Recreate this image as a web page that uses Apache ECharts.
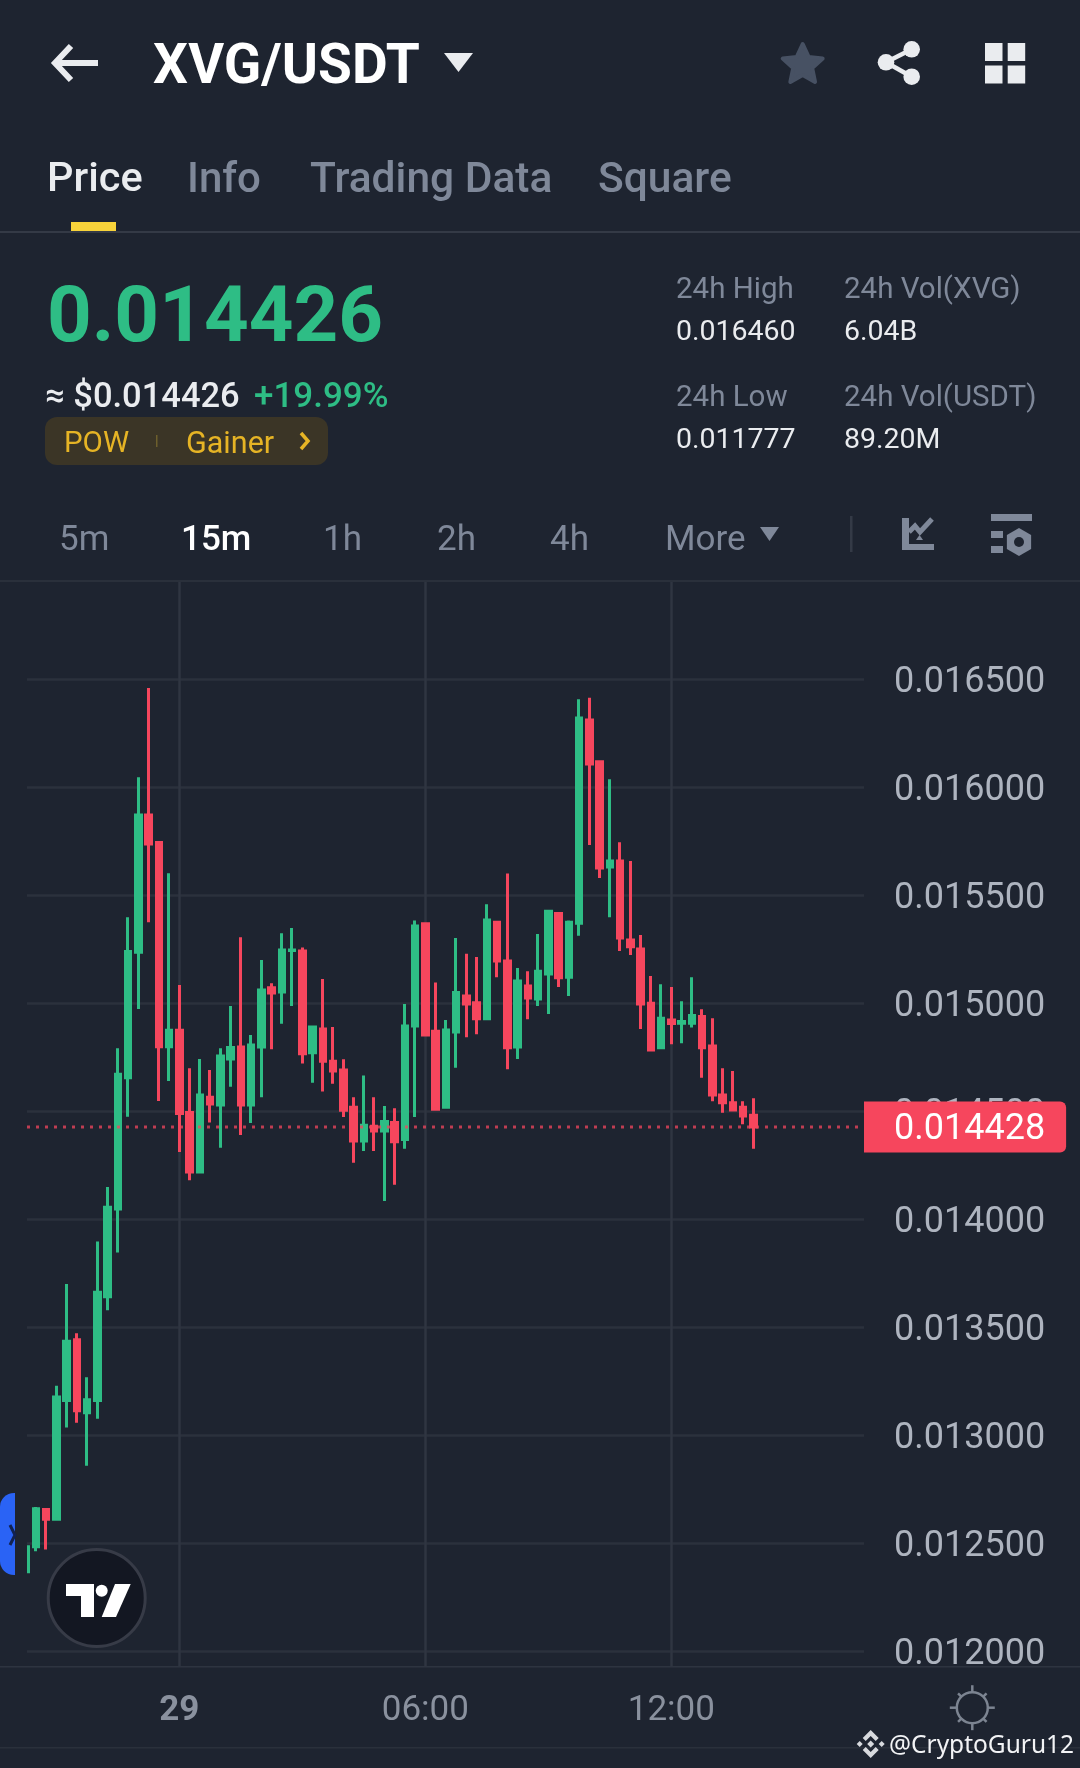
<!DOCTYPE html>
<html lang="en">
<head>
    <meta charset="UTF-8">
    <title>XVG/USDT</title>
    <style>
        html, body { margin: 0; padding: 0; background: #1e2430; }
    </style>
</head>
<body>
<div id="main" style="width: 1080px;height:1768px;"></div>
<script src="https://cdn.jsdelivr.net/npm/echarts@6/dist/echarts.min.js"></script>
<script>
    // 15m candles
    var opens = [0.012368,0.012483,0.012656,0.012611,0.013161,0.013442,0.013104,0.013161,0.013642,0.014048,0.014656,0.015238,
        0.015873,0.015746,0.014800,0.014876,0.014495,0.014219,0.014566,0.014530,0.014743,0.014798,0.014530,0.014798,
        0.015073,0.015053,0.015246,0.015243,0.014772,0.014882,0.014733,0.014692,0.014520,0.014363,0.014432,0.014409,
        0.014449,0.014370,0.014896,0.015370,0.014872,0.014520,0.014868,0.015035,0.015003,0.014929,0.015377,0.015197,
        0.014798,0.015081,0.015021,0.015137,0.015417,0.015122,0.015372,0.016313,0.016120,0.015632,0.015660,0.015294,
        0.015253,0.015001,0.014795,0.014924,0.014909,0.014909,0.014940,0.014803,0.014576,0.014540,0.014520,0.014482];
    var closes = [0.012484,0.012660,0.012611,0.013177,0.013436,0.013113,0.013164,0.013662,0.014056,0.014672,0.015241,0.015873,
        0.015739,0.014800,0.014876,0.014490,0.014219,0.014576,0.014535,0.014757,0.014796,0.014530,0.014808,0.015063,
        0.015049,0.015248,0.015248,0.014767,0.014891,0.014733,0.014687,0.014505,0.014363,0.014436,0.014409,0.014454,
        0.014360,0.014896,0.015359,0.014854,0.014510,0.014877,0.015051,0.014998,0.014929,0.015387,0.015197,0.014795,
        0.015104,0.015026,0.015150,0.015428,0.015119,0.015377,0.016323,0.016110,0.015628,0.015660,0.015304,0.015263,
        0.014998,0.014785,0.014932,0.014907,0.014917,0.014945,0.014795,0.014576,0.014540,0.014507,0.014479,0.014428];
    var lows = [0.012368,0.012463,0.012471,0.012611,0.013036,0.013058,0.012859,0.013076,0.013579,0.013846,0.014476,0.014975,
        0.015377,0.014548,0.014641,0.014312,0.014181,0.014219,0.014449,0.014332,0.014614,0.014391,0.014446,0.014566,
        0.014788,0.014906,0.014988,0.014722,0.014633,0.014593,0.014628,0.014474,0.014262,0.014317,0.014317,0.014085,
        0.014160,0.014327,0.014474,0.014850,0.014505,0.014520,0.014702,0.014844,0.014858,0.014929,0.015122,0.014695,
        0.014743,0.014927,0.014988,0.014952,0.015076,0.015035,0.015314,0.015734,0.015582,0.015400,0.015243,0.015225,
        0.014882,0.014780,0.014795,0.014811,0.014816,0.014889,0.014656,0.014547,0.014494,0.014502,0.014441,0.014327];
    var highs = [0.012484,0.012668,0.012660,0.013229,0.013701,0.013473,0.013269,0.013898,0.014150,0.014793,0.015400,0.016048,
        0.016462,0.015746,0.015604,0.015086,0.014700,0.014743,0.014692,0.014793,0.014988,0.015307,0.014854,0.015202,
        0.015094,0.015326,0.015350,0.015259,0.014896,0.015114,0.014891,0.014742,0.014566,0.014667,0.014566,0.014525,
        0.014515,0.014998,0.015385,0.015375,0.015097,0.014924,0.015303,0.015230,0.015215,0.015460,0.015377,0.015602,
        0.015164,0.015150,0.015322,0.015430,0.015420,0.015385,0.016409,0.016417,0.016125,0.016039,0.015747,0.015660,
        0.015317,0.015127,0.015089,0.015076,0.015011,0.015122,0.014973,0.014932,0.014700,0.014687,0.014547,0.014561];
    var yTicks = [0.012,0.0125,0.013,0.0135,0.014,0.0145,0.015,0.0155,0.016,0.0165];
    var xTicks = [0,360,720];
    var xTickLabels = ['{day|29}','06:00','12:00'];
    var lastPrice = 0.014428;

    var BG = '#1e2430', GREEN = '#2ebd85', RED = '#f6465d', GREY = '#7f8899', WHITE = '#eaecef';
    var FONT = 'Roboto, sans-serif';
    var X_MIN = -223, X_MAX = 1002;

    // minutes from 00:00 on the 29th; the first candle is at 20:15 the day before
    var candleData = opens.map(function (o, i) {
        return [-225 + i * 15, o, closes[i], lows[i], highs[i]];
    });

    // ---- screen furniture around the chart ----
    var items = [];
    function text(x, y, str, size, color, weight, family, align) {
        items.push({type: 'text', z: 20, style: {
            x: x, y: y, text: str, fill: color,
            font: (weight || 400) + ' ' + size + 'px ' + (family || FONT),
            textAlign: align || 'left', textVerticalAlign: 'middle'
        }});
    }
    function rect(x, y, w, h, color, r) {
        items.push({type: 'rect', z: 20, shape: {x: x, y: y, width: w, height: h, r: r || 0}, style: {fill: color}});
    }
    function poly(points, color) {
        items.push({type: 'polygon', z: 20, shape: {points: points}, style: {fill: color}});
    }
    function line(x1, y1, x2, y2, color, width) {
        items.push({type: 'line', z: 20, shape: {x1: x1, y1: y1, x2: x2, y2: y2}, style: {stroke: color, lineWidth: width}});
    }
    function path(points, color, width) {
        items.push({type: 'polyline', z: 20, shape: {points: points}, style: {stroke: color, lineWidth: width, fill: null, lineJoin: 'miter'}});
    }
    function circle(x, y, r, fill, stroke, width) {
        items.push({type: 'circle', z: 20, shape: {cx: x, cy: y, r: r}, style: {fill: fill, stroke: stroke, lineWidth: width || 0}});
    }
    function radial(cx, cy, n, rFn, start) {
        var pts = [];
        for (var i = 0; i < n; i++) {
            var a = start + i * 2 * Math.PI / n, r = rFn(i);
            pts.push([cx + r * Math.cos(a), cy + r * Math.sin(a)]);
        }
        return pts;
    }

    // top bar
    path([[71, 46], [55, 63], [71, 80]], WHITE, 6);
    line(56, 63, 98, 63, WHITE, 6);
    text(153, 69, 'XVG/USDT', 55, '#ffffff', 700);
    poly([[444, 53], [473, 53], [458.5, 72]], WHITE);
    items.push({type: 'polygon', z: 20, shape: {points: radial(802.7, 65, 10, function (i) { return i % 2 ? 10 : 21; }, -Math.PI / 2)},
        style: {fill: '#475163', stroke: '#475163', lineWidth: 4, lineJoin: 'round'}});
    line(911.7, 49.3, 886, 62.3, WHITE, 4.5);
    line(911.7, 76.7, 886, 62.3, WHITE, 4.5);
    circle(911.7, 49.3, 8.3, WHITE);
    circle(886, 62.3, 8.3, WHITE);
    circle(911.7, 76.7, 8.3, WHITE);
    rect(985, 43, 17.5, 18, WHITE);
    rect(1007.7, 43, 17.5, 18, WHITE);
    rect(985, 65.5, 17.5, 18, WHITE);
    rect(1007.7, 65.5, 17.5, 18, WHITE);

    // tabs
    text(47, 181, 'Price', 41.5, WHITE, 500);
    text(187, 181, 'Info', 42, GREY, 500);
    text(310, 181, 'Trading Data', 42.5, GREY, 500);
    text(598, 181, 'Square', 42.5, GREY, 500);
    rect(71, 222, 45, 9, '#f8d33a');
    rect(0, 231, 1080, 2, '#343a46');

    // price block
    text(47, 321, '0.014426', 78, GREEN, 700);
    text(45, 398, '≈ $0.014426', 34.5, WHITE, 500);
    text(254, 398, '+19.99%', 35, GREEN, 500);
    rect(45, 417, 283, 48, '#3b3526', 12);
    text(64, 445, 'POW', 29.5, '#e6b425');
    rect(156, 435, 1.5, 12, '#6d5f2c');
    text(186, 445, 'Gainer', 30.5, '#e6b425');
    path([[301, 433], [308, 441], [301, 449]], '#e6b425', 3.5);

    text(676, 291, '24h High', 29.5, GREY);
    text(676, 333, '0.016460', 28.5, WHITE);
    text(844, 291, '24h Vol(XVG)', 29.5, GREY);
    text(844, 333, '6.04B', 28.5, WHITE);
    text(676, 399, '24h Low', 29.5, GREY);
    text(676, 441, '0.011777', 28.5, WHITE);
    text(844, 399, '24h Vol(USDT)', 29.5, GREY);
    text(844, 441, '89.20M', 28.5, WHITE);

    // interval bar
    text(59, 541, '5m', 35, GREY);
    text(181, 541, '15m', 35, '#ffffff', 500);
    text(323, 541, '1h', 35, GREY);
    text(437, 541, '2h', 35, GREY);
    text(550, 541, '4h', 35, GREY);
    text(665, 541, 'More', 35, GREY);
    poly([[760, 527], [779, 527], [769.5, 541]], GREY);
    rect(850, 516, 2.5, 36, '#343a46');
    // indicator icon
    rect(902, 518, 7, 32, GREY);
    rect(902, 544, 32, 6, GREY);
    path([[909, 532], [915, 526], [920, 532], [932, 519]], GREY, 5);
    poly([[916, 540], [923, 540], [919.5, 535]], GREY);
    // settings icon
    rect(991, 514, 41, 7, GREY);
    rect(991, 531, 12, 7, GREY);
    rect(991, 546, 12, 7, GREY);
    poly(radial(1019, 542, 6, function () { return 14; }, -Math.PI / 2), GREY);
    circle(1019, 542, 5, BG);

    // chart frame lines
    rect(0, 580, 1080, 2, '#2a303b');
    rect(0, 1666, 1080, 1.5, '#2e3440');
    rect(0, 1747, 1080, 1.5, '#2a303b');

    // the plot cuts the oldest candle at its left edge
    rect(0, 1535, 27, 45, BG);

    // left drawer tab
    items.push({type: 'rect', z: 20, shape: {x: 0, y: 1493, width: 15, height: 82, r: [14, 0, 0, 14]}, style: {fill: '#2a63f5'}});
    path([[10, 1525], [15, 1535], [10, 1545]], '#12224f', 3);

    // TradingView badge
    circle(96.7, 1598, 48.5, '#131722', '#373b47', 3);
    rect(66, 1584, 28, 12, '#ffffff');
    rect(81, 1584, 13, 33, '#ffffff');
    circle(101.7, 1590.7, 6, '#ffffff');
    poly([[115, 1584], [130.7, 1584], [116, 1617], [101.7, 1617]], '#ffffff');

    // sun icon
    circle(972.3, 1707.7, 15.5, null, '#7c8491', 2.5);
    radial(972.3, 1707.7, 8, function () { return 15.5; }, 0).forEach(function (p, i) {
        var dx = p[0] - 972.3, dy = p[1] - 1707.7, k = i % 2 ? 1.3 : 1.45;
        line(p[0], p[1], 972.3 + dx * k, 1707.7 + dy * k, '#7c8491', 2.5);
    });

    // watermark logo
    var LOGO_X = 870.7, LOGO_Y = 1744;
    [1, -1].forEach(function (s) {
        poly([[0, -14], [8, -6], [5, -3], [0, -8], [-5, -3], [-8, -6]].map(function (p) {
            return [LOGO_X + p[0], LOGO_Y + s * p[1]];
        }), '#d8dade');
    });
    poly(radial(LOGO_X, LOGO_Y, 4, function () { return 3.5; }, 0), '#d8dade');
    poly(radial(LOGO_X - 11, LOGO_Y, 4, function () { return 3; }, 0), '#d8dade');
    poly(radial(LOGO_X + 11, LOGO_Y, 4, function () { return 3; }, 0), '#d8dade');
    text(889, 1746, '@CryptoGuru12', 24.5, '#f2f3f5', 400, '"Noto Sans", sans-serif');

    // ---- chart ----
    var myChart = echarts.init(document.getElementById('main'));
    var option = {
        backgroundColor: BG,
        animation: false,
        grid: {left: 27, right: 216, top: 580, bottom: 102},
        xAxis: {
            type: 'value',
            min: X_MIN,
            max: X_MAX,
            axisLine: {show: false},
            axisTick: {show: false, customValues: xTicks},
            axisLabel: {
                customValues: xTicks,
                margin: 28,
                color: '#8a919e',
                fontFamily: FONT,
                fontSize: 35,
                rich: {day: {color: '#8a919e', fontFamily: FONT, fontSize: 35, fontWeight: 700}},
                formatter: function (v) { return xTickLabels[xTicks.indexOf(v)]; }
            },
            splitLine: {show: true, lineStyle: {color: '#2f3541', width: 2.5}}
        },
        yAxis: {
            type: 'value',
            position: 'right',
            min: 0.011931,
            max: 0.016962,
            axisLine: {show: false},
            axisTick: {show: false, customValues: yTicks},
            axisLabel: {
                customValues: yTicks,
                margin: 30,
                color: '#aeb4bf',
                fontFamily: FONT,
                fontSize: 36,
                // the padding sets the digits a little below their grid line
                rich: {v: {color: '#aeb4bf', fontFamily: FONT, fontSize: 36, padding: [7, 0, 0, 0]}},
                formatter: function (v) { return '{v|' + v.toFixed(6) + '}'; }
            },
            splitLine: {show: true, lineStyle: {color: '#2b313c', width: 2.5}}
        },
        series: [{
            type: 'candlestick',
            barWidth: 6,
            clip: true,
            itemStyle: {color: GREEN, color0: RED, borderColor: GREEN, borderColor0: RED, borderColorDoji: GREEN, borderWidth: 3},
            data: candleData
        }, {
            // last price, dotted across the plot with its tag on the axis
            type: 'line',
            silent: true,
            symbol: 'none',
            data: [[X_MIN, lastPrice], [X_MAX, lastPrice]],
            lineStyle: {color: RED, type: [3, 6], width: 3, opacity: 0.75},
            endLabel: {
                show: true,
                distance: 0,
                align: 'left',
                verticalAlign: 'middle',
                formatter: '{v|' + lastPrice.toFixed(6) + '}',
                rich: {v: {color: '#ffffff', fontFamily: FONT, fontSize: 36, lineHeight: 44, padding: [7, 0, 0, 0]}},
                padding: [3.5, 21, 3.5, 30],
                backgroundColor: RED,
                borderRadius: [0, 6, 6, 0]
            }
        }],
        graphic: items
    };
    myChart.setOption(option);
</script>
</body>
</html>
